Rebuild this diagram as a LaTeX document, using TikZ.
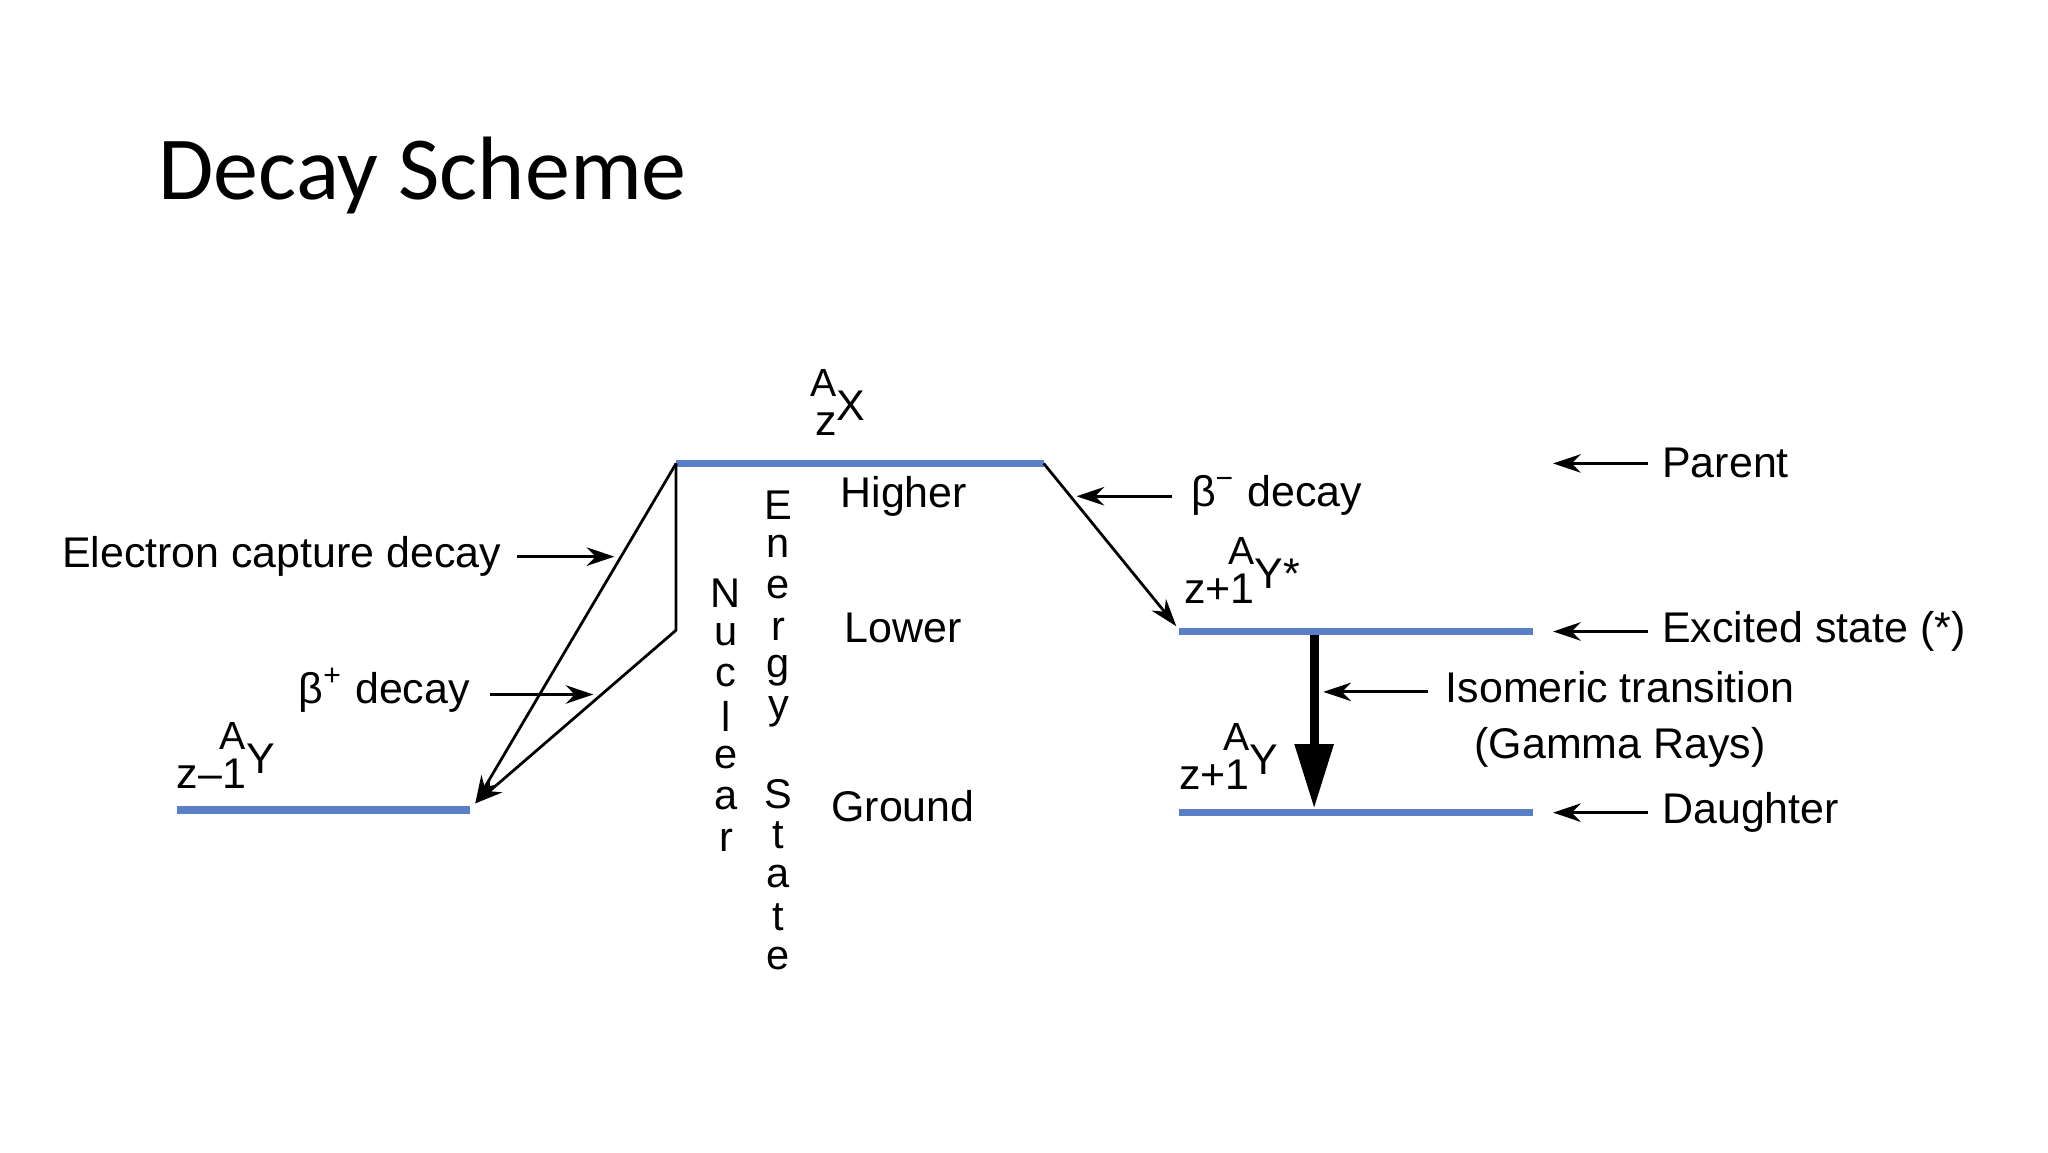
\documentclass[tikz,border=0pt]{standalone}
\usepackage{fontspec}
\setmainfont{Liberation Sans}
\newfontfamily\titlefont{Carlito}
\usetikzlibrary{arrows.meta}
\definecolor{levelblue}{HTML}{5B7FC6}
\newcommand*{\nuclide}[3]{\raisebox{-0.35em}{#2}\llap{\raisebox{0.55em}{\fontsize{8.5}{10}\selectfont #1}}#3}
\begin{document}
\begin{tikzpicture}[x=0.01cm,y=-0.01cm,
	level/.style={levelblue,line width=1.6pt},
	decay/.style={-{Stealth[length=6pt,width=4pt]},line width=0.6pt},
	pointer/.style={-{Stealth[length=6pt,width=4pt]},line width=0.6pt},
	lbl/.style={font=\fontsize{9.3}{11}\selectfont,inner sep=1pt},
	letter/.style={font=\fontsize{9}{10}\selectfont,inner sep=0pt}]
\useasboundingbox (0,0) rectangle (1560,878);

\node[anchor=base west,font=\titlefont\fontsize{19.5}{23}\selectfont,inner sep=0pt] (title) at (120,152) {Decay Scheme};

% energy levels
\draw[level] (515,353) coordinate (pL) -- (795,353) coordinate (pR);
\draw[level] (135,617) -- (358,617) coordinate (dL);
\draw[level] (898,481) coordinate (eL) -- (1168,481) coordinate (eR);
\draw[level] (898,619) coordinate (gL) -- (1168,619) coordinate (gR);

% decays
\coordinate (kink) at (515,480);
\coordinate (dLend) at (362,612);
\draw[decay] (pL) -- (dLend);
\draw[decay] (pL) -- (kink) -- (dLend);
\draw[decay] (pR) -- (896,477);
\coordinate (gtop) at (1001,484);
\coordinate (gbot) at (1001,616);
\draw[-{Triangle[length=14pt,width=8pt]},line width=2pt] (gtop) -- (gbot);

% nuclides
\node[lbl,anchor=base] (parent) at (640,320) {\nuclide{A}{z}{X}};
\node[lbl,anchor=base] (left) at (172,589) {\nuclide{A}{z--1}{Y}};
\node[lbl,anchor=base] (excited) at (946,448) {\nuclide{A}{z+1}{Y*}};
\node[lbl,anchor=base] (ground) at (936,590) {\nuclide{A}{z+1}{Y}};

% labels and pointers
\node[lbl,anchor=east] (ec) at (386,424) {Electron capture decay};
\coordinate (ecend) at (468,424);
\draw[pointer] (ec.east) ++(8,0) -- (ecend);
\node[lbl,anchor=east] (bplus) at (362,526) {β\textsuperscript{+} decay};
\coordinate (bplusend) at (452,529);
\draw[pointer] (373,529) -- (bplusend);
\node[lbl,anchor=west] (bminus) at (903,377) {β\textsuperscript{−} decay};
\draw[pointer] (893,378) -- (820,378);
\node[lbl,anchor=west] (par) at (1262,353) {Parent};
\draw[pointer] (1255,353) -- (1183,353);
\node[lbl,anchor=west] (exc) at (1262,481) {Excited state (*)};
\draw[pointer] (1255,481) -- (1183,481);
\node[lbl,anchor=west] (dau) at (1262,619) {Daughter};
\draw[pointer] (1255,619) -- (1183,619);
\node[lbl,align=center] (iso) at (1234,548) {Isomeric transition\\[1pt](Gamma Rays)};
\draw[pointer] (1088,527) -- (1008,527);

\node[lbl,anchor=west] (higher) at (636,378) {Higher};
\node[lbl,anchor=west] (lower) at (639,478) {Lower};
\node[lbl,anchor=west] (groundlbl) at (629,614) {Ground};

% vertical axis text
\foreach \c [count=\i from 0] in {E,n,e,r,g,y,{},S,t,a,t,e}
	\node[letter] (e\i) at (593,385+\i*31.4) {\c};
\foreach \c [count=\i from 0] in {N,u,c,l,e,a,r}
	\node[letter] (n\i) at (553,452+\i*31.3) {\c};

\end{tikzpicture}
\end{document}
